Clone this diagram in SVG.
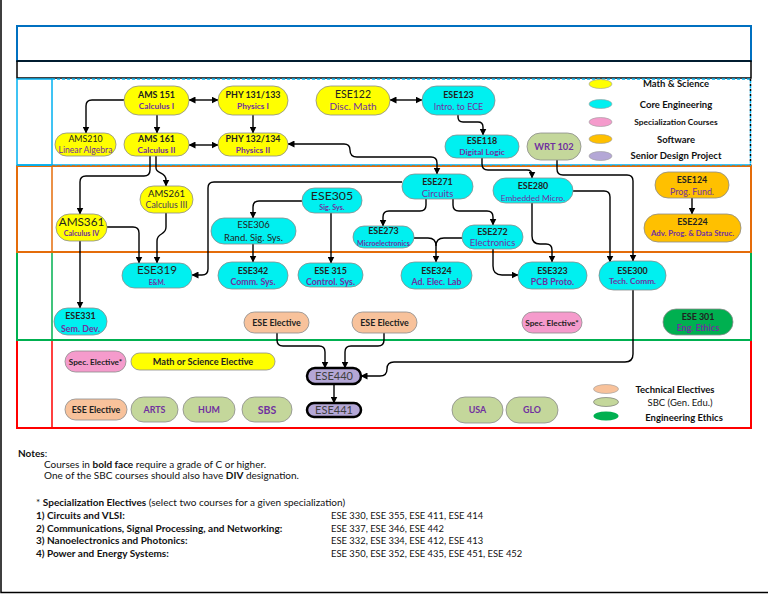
<svg xmlns="http://www.w3.org/2000/svg" width="768" height="594" viewBox="0 0 768 594">
<style>
text{font-family:Lato,"Liberation Sans",sans-serif;text-anchor:middle}
.n rect{stroke:#8a8a8a;stroke-width:.8}
.y{fill:#ffff00}.c{fill:#00f0f0}.p{fill:#f59bcc}.o{fill:#ffc000}.t{fill:#f8c29b}.g{fill:#c4d79b}.dg{fill:#00b050}.v{fill:#b4a7d6}
.k{font-size:8.9px;font-weight:bold;fill:#222}
.kr{font-size:9.5px;fill:#222}
.kl{font-size:11.7px;fill:#222}
.m{font-size:8.3px;font-weight:bold;fill:#7030a0}
.mr{font-size:8.9px;fill:#7030a0}
.lg{font-size:9.5px;font-weight:bold;fill:#111}
.nt{font-size:10px;fill:#111;text-anchor:start}
.nr{font-size:9.4px;fill:#111;text-anchor:start}
.nb{font-weight:bold}
.con path{fill:none;stroke:#000;stroke-width:1.4}
</style>
<defs>
<marker id="ah" markerWidth="7" markerHeight="7" refX="6.5" refY="3.5" orient="auto-start-reverse" markerUnits="userSpaceOnUse"><path d="M0,0 L7,3.5 L0,7 z" fill="#000"/></marker>
</defs>
<rect x="0" y="0" width="768" height="594" fill="#fff"/>
<rect x="1" y="-3" width="772" height="595.5" fill="none" stroke="#000" stroke-width="1.5"/>
<!-- frames -->
<rect x="17" y="26" width="734" height="35" fill="none" stroke="#0070c0" stroke-width="2"/>
<rect x="17" y="61" width="734" height="17" fill="none" stroke="#000" stroke-width="1.5"/>
<rect x="17" y="340" width="734" height="88" fill="none" stroke="#ff0000" stroke-width="2"/>
<line x1="52" y1="340" x2="52" y2="428" stroke="#ff0000" stroke-width="1.5"/>
<rect x="17" y="252" width="734" height="88" fill="none" stroke="#00b050" stroke-width="2"/>
<line x1="52" y1="252" x2="52" y2="340" stroke="#00b050" stroke-width="1.5"/>
<rect x="17" y="166" width="734" height="86" fill="none" stroke="#e46c0a" stroke-width="2"/>
<line x1="52" y1="166" x2="52" y2="252" stroke="#e46c0a" stroke-width="1.5"/>
<rect x="17" y="79" width="35" height="86" fill="none" stroke="#00b0f0" stroke-width="1.5"/>
<path d="M52,79 H750.5 V165" fill="none" stroke="#00b0f0" stroke-width="1.5" stroke-dasharray="3,2"/>
<path d="M750.5,79 V165" fill="none" stroke="#000" stroke-width="1.5" stroke-dasharray="2,3"/>
<line x1="17" y1="165" x2="751" y2="165" stroke="#00b0f0" stroke-width="1.5"/>
<line x1="52" y1="166" x2="751" y2="166" stroke="#e46c0a" stroke-width="1.5" stroke-dasharray="3,2"/>

<!-- connectors -->
<g id="connectors" class="con">
<path d="M124,100 H92 Q86,100 86,106 V133" marker-end="url(#ah)"/>
<path d="M157,115 V133" marker-end="url(#ah)"/>
<path d="M189,100 H218" marker-start="url(#ah)" marker-end="url(#ah)"/>
<path d="M253,115 V133" marker-end="url(#ah)"/>
<path d="M189,145 H218" marker-start="url(#ah)" marker-end="url(#ah)"/>
<path d="M390,100 H422" marker-start="url(#ah)" marker-end="url(#ah)"/>
<path d="M458,115 V117 Q458,122 463,122 H478 Q483,122 483,127 V135" marker-end="url(#ah)"/>
<path d="M288,144 H344 Q350,144 350,150 Q350,157 357,157 H431 Q437,157 437,163 V174" marker-start="url(#ah)" marker-end="url(#ah)"/>
<path d="M150,156 V170 Q150,176 144,176 H86 Q80,176 80,182 V214" marker-end="url(#ah)"/>
<path d="M156,156 V168 C156,174 166,172 166,180 V186" marker-end="url(#ah)"/>
<path d="M107,227 H133 Q139,227 139,233 V263" marker-end="url(#ah)"/>
<path d="M166,213 V227 C166,236 157,232 157,241 V263" marker-end="url(#ah)"/>
<path d="M80,241 V308" marker-end="url(#ah)"/>
<path d="M402,182 H214 Q208,182 208,188 V269 Q208,275 202,275 H192" marker-end="url(#ah)"/>
<path d="M302,201 H259 Q253,201 253,207 V218" marker-end="url(#ah)"/>
<path d="M253,244 V262" marker-end="url(#ah)"/>
<path d="M331,213 V263" marker-end="url(#ah)"/>
<path d="M426,199 V205 Q426,211 420,211 H389 Q383,211 383,217 V226" marker-end="url(#ah)"/>
<path d="M453,199 V205 Q453,211 459,211 H487 Q493,211 493,217 V225" marker-end="url(#ah)"/>
<path d="M414,238 H428 Q436,238 436,246 V262" marker-end="url(#ah)"/>
<path d="M462,238 H444 Q436,238 436,246"/>
<path d="M493,249 V266 Q493,275 502,275 H518" marker-end="url(#ah)"/>
<path d="M482,158 V164 Q482,170 488,170 H527 Q532,170 532,175 V178" marker-end="url(#ah)"/>
<path d="M532,203 V236 Q532,244 540,244 H546 Q552,244 552,250 V262" marker-end="url(#ah)"/>
<path d="M573,191 H604 Q610,191 610,197 V262" marker-end="url(#ah)"/>
<path d="M557,160 V169 Q557,175 563,175 H627 Q633,175 633,181 V261" marker-end="url(#ah)"/>
<path d="M633,290 V354 Q633,362 625,362 H394 Q387,362 387,369 Q387,376 380,376 H361" marker-end="url(#ah)"/>
<path d="M277,333 V340 Q277,346 283,346 H319 Q325,346 325,352 V368" marker-end="url(#ah)"/>
<path d="M384,333 V340 Q384,346 378,346 H351 Q345,346 345,352 V368" marker-end="url(#ah)"/>
<path d="M334,384 V403" marker-end="url(#ah)"/>
<path d="M692,198 V214" marker-end="url(#ah)"/>
</g>

<!-- row 1 nodes -->
<g id="ams151" class="n"><rect class="y" x="124" y="86" width="65" height="29" rx="14.5"/><text class="k" x="156.5" y="98">AMS 151</text><text class="m" x="156.5" y="109">Calculus I</text></g>
<g id="phy131" class="n"><rect class="y" x="218" y="86" width="70" height="29" rx="14.5"/><text class="k" x="253" y="98">PHY 131/133</text><text class="m" x="253" y="109">Physics I</text></g>
<g id="ese122" class="n"><rect class="y" x="316" y="86" width="74" height="29" rx="14.5"/><text class="kr" x="353" y="98" style="font-size:10.5px">ESE122</text><text class="mr" x="353" y="109.5" style="font-size:10px">Disc. Math</text></g>
<g id="ese123" class="n"><rect class="c" x="422" y="86" width="73" height="29" rx="14.5"/><text class="k" x="458.5" y="98">ESE123</text><text class="mr" x="458.5" y="109.5">Intro. to ECE</text></g>
<g id="ams210" class="n"><rect class="y" x="55" y="133" width="61" height="23" rx="11.5"/><text class="kr" x="85.5" y="141.5" style="font-size:8.8px">AMS210</text><text class="mr" x="85.5" y="153" style="font-size:8.6px">Linear Algebra</text></g>
<g id="ams161" class="n"><rect class="y" x="124" y="133" width="65" height="23" rx="11.5"/><text class="k" x="156.5" y="141.5">AMS 161</text><text class="m" x="156.5" y="153">Calculus II</text></g>
<g id="phy132" class="n"><rect class="y" x="218" y="133" width="70" height="23" rx="11.5"/><text class="k" x="253" y="141.5">PHY 132/134</text><text class="m" x="253" y="153">Physics II</text></g>
<g id="ese118" class="n"><rect class="c" x="445" y="135" width="74" height="23" rx="11.5"/><text class="k" x="482" y="143.5">ESE118</text><text class="m" x="482" y="155">Digital Logic</text></g>
<g id="wrt102" class="n"><rect class="g" x="527" y="133" width="54" height="27" rx="13.5"/><text class="m" x="554" y="150" style="font-size:9.3px">WRT 102</text></g>

<!-- legend 1 -->
<g id="legend1">
<ellipse class="y" cx="600.5" cy="84" rx="11.5" ry="4.5" stroke="#999" stroke-width=".6"/>
<ellipse class="c" cx="600.5" cy="104" rx="11.5" ry="4.5" stroke="#999" stroke-width=".6"/>
<ellipse class="p" cx="600.5" cy="122" rx="11.5" ry="4.5" stroke="#999" stroke-width=".6"/>
<ellipse class="o" cx="600.5" cy="139" rx="11.5" ry="4.5" stroke="#999" stroke-width=".6"/>
<ellipse class="v" cx="600.5" cy="156" rx="11.5" ry="4.5" stroke="#999" stroke-width=".6"/>
<text class="lg" x="676" y="87">Math &amp; Science</text>
<text class="lg" x="676" y="107.5">Core Engineering</text>
<text class="lg" x="676" y="124.5" style="font-size:8.4px">Specialization Courses</text>
<text class="lg" x="676" y="142.5">Software</text>
<text class="lg" x="676" y="159">Senior Design Project</text>
</g>

<!-- row 2 -->
<g id="ams361" class="n"><rect class="y" x="56" y="214" width="51" height="27" rx="13.5"/><text class="kl" x="81.5" y="226">AMS361</text><text class="m" x="81.5" y="236" style="font-size:7.2px">Calculus IV</text></g>
<g id="ams261" class="n"><rect class="y" x="140" y="186" width="53" height="27" rx="13.5"/><text class="kr" x="166.5" y="197">AMS261</text><text class="kr" x="166.5" y="208" style="font-size:8.8px;fill:#4a3a5a">Calculus III</text></g>
<g id="ese305" class="n"><rect class="c" x="302" y="188" width="60" height="25" rx="12.5"/><text class="kl" x="332" y="199.5" style="font-size:12.3px">ESE305</text><text class="m" x="332" y="210" style="font-size:7.2px">Sig. Sys.</text></g>
<g id="ese306" class="n"><rect class="c" x="211" y="218" width="85" height="26" rx="13"/><text class="kr" x="253.5" y="228">ESE306</text><text class="kr" x="253.5" y="240.5">Rand. Sig. Sys.</text></g>
<g id="ese273" class="n"><rect class="c" x="353" y="226" width="61" height="22" rx="11"/><text class="k" x="383.5" y="234">ESE273</text><text class="m" x="383.5" y="245.5" style="font-size:7.1px">Microelectronics</text></g>
<g id="ese271" class="n"><rect class="c" x="402" y="174" width="71" height="25" rx="12.5"/><text class="k" x="437.5" y="184.5">ESE271</text><text class="mr" x="437.5" y="196.5" style="font-size:9.5px">Circuits</text></g>
<g id="ese280" class="n"><rect class="c" x="493" y="178" width="80" height="25" rx="12.5"/><text class="k" x="533" y="189">ESE280</text><text class="mr" x="533" y="200.5" style="font-size:8.4px">Embedded Micro.</text></g>
<g id="ese272" class="n"><rect class="c" x="462" y="225" width="61" height="24" rx="12"/><text class="k" x="492.5" y="234.5">ESE272</text><text class="mr" x="492.5" y="246" style="font-size:9.5px">Electronics</text></g>
<g id="ese124" class="n"><rect class="o" x="655" y="172" width="74" height="26" rx="13"/><text class="k" x="692" y="182.5">ESE124</text><text class="mr" x="692" y="194.5">Prog. Fund.</text></g>
<g id="ese224" class="n"><rect class="o" x="644" y="214" width="97" height="28" rx="14"/><text class="k" x="692.5" y="225">ESE224</text><text class="m" x="692.5" y="236" style="font-size:7.8px">Adv. Prog. &amp; Data Struc.</text></g>

<!-- row 3 -->
<g id="ese319" class="n"><rect class="c" x="122" y="263" width="70" height="25" rx="12.5"/><text class="kl" x="157" y="274">ESE319</text><text class="m" x="157" y="285" style="font-size:6.7px">E&amp;M.</text></g>
<g id="ese342" class="n"><rect class="c" x="218" y="262" width="70" height="27" rx="13.5"/><text class="k" x="253" y="273.5">ESE342</text><text class="m" x="253" y="285" style="font-size:8.9px">Comm. Sys.</text></g>
<g id="ese315" class="n"><rect class="c" x="298" y="263" width="65" height="24" rx="12"/><text class="k" x="330.5" y="273.5">ESE 315</text><text class="m" x="330.5" y="284.5" style="font-size:8.9px">Control. Sys.</text></g>
<g id="ese324" class="n"><rect class="c" x="401" y="262" width="71" height="27" rx="13.5"/><text class="k" x="436.5" y="273.5">ESE324</text><text class="m" x="436.5" y="285" style="font-size:8.9px">Ad. Elec. Lab</text></g>
<g id="ese323" class="n"><rect class="c" x="518" y="262" width="69" height="27" rx="13.5"/><text class="k" x="552.5" y="273.5">ESE323</text><text class="m" x="552.5" y="285" style="font-size:8.9px">PCB Proto.</text></g>
<g id="ese300" class="n"><rect class="c" x="599" y="261" width="67" height="29" rx="14.5"/><text class="k" x="632.5" y="273.5">ESE300</text><text class="m" x="632.5" y="284">Tech. Comm.</text></g>
<g id="ese331" class="n"><rect class="c" x="54" y="308" width="53" height="27" rx="13.5"/><text class="k" x="80.5" y="319">ESE331</text><text class="m" x="80.5" y="331.5" style="font-size:8.9px">Sem. Dev.</text></g>
<g id="elective1" class="n"><rect class="t" x="244" y="312" width="65" height="21" rx="10.5"/><text class="k" x="276.5" y="325.8">ESE Elective</text></g>
<g id="elective2" class="n"><rect class="t" x="352" y="312" width="65" height="21" rx="10.5"/><text class="k" x="384.5" y="325.8">ESE Elective</text></g>
<g id="spec1" class="n"><rect class="p" x="522" y="312" width="60" height="21" rx="10.5"/><text class="k" x="552" y="325.5" style="font-size:8.2px">Spec. Elective*</text></g>
<g id="ese301" class="n"><rect class="dg" x="663" y="309" width="70" height="26" rx="13"/><text class="k" x="698" y="320">ESE 301</text><text class="m" x="698" y="331" style="font-size:8.9px">Eng. Ethics</text></g>

<!-- row 4 -->
<g id="spec2" class="n"><rect class="p" x="65" y="351" width="61" height="21" rx="10.5"/><text class="k" x="95.5" y="364.5" style="font-size:8.2px">Spec. Elective*</text></g>
<g id="mathsci" class="n"><rect class="y" x="131" y="353" width="144" height="17" rx="8.5"/><text class="k" x="203" y="364.8" style="font-size:9.2px">Math or Science Elective</text></g>
<g id="ese440"><rect class="v" x="307" y="368" width="54" height="16" rx="8" stroke="#000" stroke-width="2.5"/><text class="kl" x="334" y="380" style="font-size:11px;fill:#404040">ESE440</text></g>
<g id="ese441"><rect class="v" x="307" y="403" width="54" height="14" rx="7" stroke="#000" stroke-width="2.5"/><text class="kl" x="334" y="414" style="font-size:11px;fill:#404040">ESE441</text></g>
<g id="elective3" class="n"><rect class="t" x="65" y="399" width="62" height="21" rx="10.5"/><text class="k" x="96" y="412.8">ESE Elective</text></g>
<g id="arts" class="n"><rect class="g" x="131" y="397" width="47" height="25" rx="12.5"/><text class="m" x="154.5" y="412.8" style="font-size:8.9px">ARTS</text></g>
<g id="hum" class="n"><rect class="g" x="183" y="397" width="52" height="25" rx="12.5"/><text class="m" x="209" y="412.8" style="font-size:8.9px">HUM</text></g>
<g id="sbs" class="n"><rect class="g" x="242" y="397" width="50" height="25" rx="12.5"/><text class="m" x="267" y="413.5" style="font-size:10.5px">SBS</text></g>
<g id="usa" class="n"><rect class="g" x="452" y="397" width="51" height="26" rx="13"/><text class="m" x="477.5" y="413" style="font-size:8.9px">USA</text></g>
<g id="glo" class="n"><rect class="g" x="506" y="397" width="52" height="26" rx="13"/><text class="m" x="532" y="413" style="font-size:8.9px">GLO</text></g>

<!-- legend 2 -->
<g id="legend2">
<ellipse class="t" cx="606" cy="389" rx="12.5" ry="4.5" stroke="#999" stroke-width=".6"/>
<ellipse class="g" cx="606" cy="402" rx="12.5" ry="4.5" stroke="#666" stroke-width=".6"/>
<ellipse class="dg" cx="606" cy="416" rx="12.5" ry="4.5"/>
<text class="lg" x="675" y="392.5">Technical Electives</text>
<text class="lg" x="680" y="406" style="font-weight:normal">SBC (Gen. Edu.)</text>
<text class="lg" x="684" y="420.5">Engineering Ethics</text>
</g>

<!-- notes -->
<g id="notes">
<text class="nt" x="18" y="457"><tspan class="nb">Notes</tspan>:</text>
<text class="nt" x="44" y="467.5">Courses in <tspan class="nb">bold face</tspan> require a grade  of C or higher.</text>
<text class="nt" x="44" y="478.5">One of the SBC courses should also have <tspan class="nb">DIV</tspan> designation.</text>
<text class="nt" x="36" y="506">* <tspan class="nb">Specialization Electives</tspan> (select two courses for a given specialization)</text>
<text class="nt nb" x="36" y="518.5">1) Circuits and VLSI:</text>
<text class="nt nb" x="36" y="531.5">2) Communications, Signal Processing, and Networking:</text>
<text class="nt nb" x="36" y="544">3) Nanoelectronics and Photonics:</text>
<text class="nt nb" x="36" y="556.5">4) Power and Energy Systems:</text>
<text class="nr" x="331" y="518.5">ESE 330, ESE 355, ESE 411, ESE 414</text>
<text class="nr" x="331" y="531.5">ESE 337, ESE 346, ESE 442</text>
<text class="nr" x="331" y="544">ESE 332, ESE 334, ESE 412, ESE 413</text>
<text class="nr" x="331" y="556.5">ESE 350, ESE 352, ESE 435, ESE 451, ESE 452</text>
</g>
</svg>
